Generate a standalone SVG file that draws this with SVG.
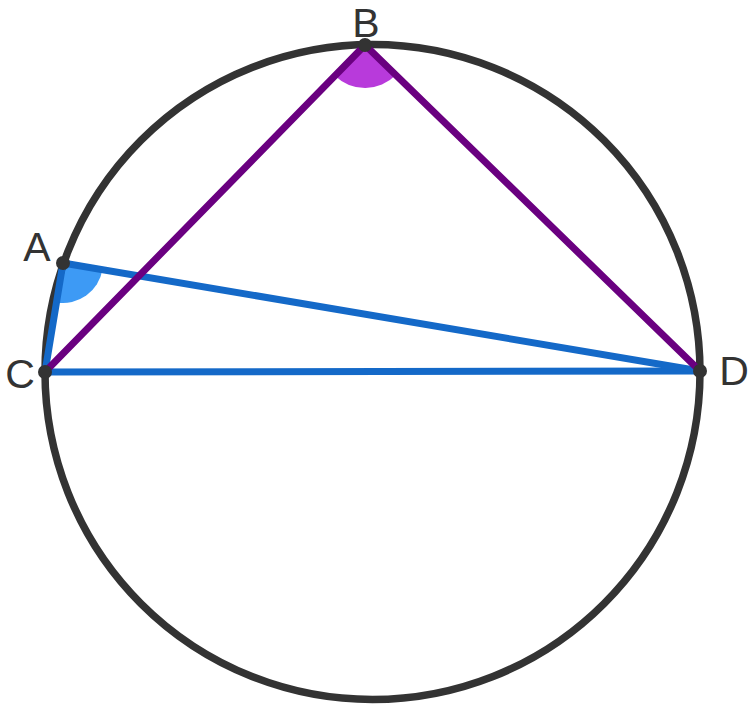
<svg xmlns="http://www.w3.org/2000/svg" width="750" height="705" viewBox="0 0 750 705">
<style>
.lbl{font-family:"Liberation Sans",Arial,sans-serif;font-size:41px;fill:#333}
.blue{stroke:#1469c8;stroke-width:7;fill:none;stroke-linecap:round}
.purple{stroke:#6a0080;stroke-width:7;fill:none;stroke-linecap:round}
.dot{fill:#333}
</style>
<rect width="750" height="705" fill="#fff"/>
<g id="angles">
<path d="M63,263 L102.4,269.7 A40,40 0 0 1 56.5,302.5 Z" fill="#3d9af5"/>
<path d="M365,45 L395.8,75 A43,43 0 0 1 334.9,75.7 Z" fill="#b83adb"/>
</g>
<g id="circle">
<circle cx="372.5" cy="372" r="327.5" fill="none" stroke="#333" stroke-width="7.5"/>
</g>
<g id="connectors">
<line class="blue" x1="63" y1="263" x2="45" y2="372"/>
<line class="blue" x1="45" y1="372" x2="700" y2="371"/>
<line class="blue" x1="63" y1="263" x2="700" y2="371"/>
<line class="purple" x1="45" y1="372" x2="365" y2="45"/>
<line class="purple" x1="365" y1="45" x2="700" y2="371"/>
</g>
<g id="A"><circle class="dot" cx="63" cy="263" r="7"/><text class="lbl" x="37" y="261" text-anchor="middle">A</text></g>
<g id="B"><circle class="dot" cx="365" cy="45" r="7"/><text class="lbl" x="366" y="37" text-anchor="middle">B</text></g>
<g id="C"><circle class="dot" cx="45" cy="372" r="7"/><text class="lbl" x="20" y="388" text-anchor="middle">C</text></g>
<g id="D"><circle class="dot" cx="700" cy="371" r="7"/><text class="lbl" x="734" y="385" text-anchor="middle">D</text></g>
</svg>
